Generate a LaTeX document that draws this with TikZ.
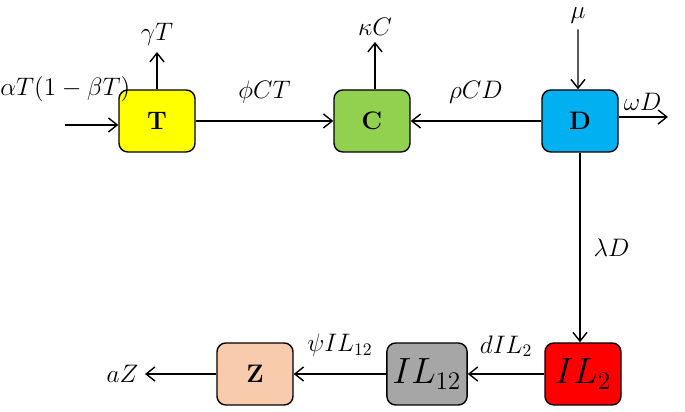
\documentclass[tikz,border=0pt]{standalone}
\usetikzlibrary{positioning,arrows.meta}
\definecolor{boxT}{RGB}{255,255,0}
\definecolor{boxC}{RGB}{146,208,80}
\definecolor{boxD}{RGB}{0,176,240}
\definecolor{boxI}{RGB}{255,0,0}
\definecolor{boxG}{RGB}{166,166,166}
\definecolor{boxZ}{RGB}{248,203,173}
\tikzset{
  comp/.style={draw, thick, rounded corners=5pt, minimum width=1.52cm, minimum height=1.24cm, font=\Large},
  flow/.style={-{Straight Barb[length=5pt,width=8pt]}, thick},
  lab/.style={font=\Large}
}
\begin{document}
\begin{tikzpicture}
    \useasboundingbox (0,0) rectangle (13.7,8.24);
    % compartments
    \node[comp, fill=boxT] (T) at (3.14,5.82) {$\mathbf{T}$};
    \node[comp, fill=boxC] (C) at (7.44,5.82) {$\mathbf{C}$};
    \node[comp, fill=boxD] (D) at (11.6,5.82) {$\mathbf{D}$};
    \node[comp, fill=boxI] (IL2) at (11.66,0.76) {\huge $IL_2$};
    \node[comp, fill=boxG] (IL12) at (8.54,0.76) {\huge $IL_{12}$};
    \node[comp, fill=boxZ] (Z) at (5.1,0.76) {$\mathbf{Z}$};

    % free ends
    \coordinate (in) at (1.3,5.74);
    \coordinate (gT) at (3.14,7.2);
    \coordinate (kC) at (7.5,7.4);
    \coordinate (mu) at (11.56,7.65);
    \coordinate (wD) at (13.36,5.9);
    \coordinate (aZ) at (2.9,0.76);

    % flows
    \draw[flow] (in) -- (in -| T.west);
    \draw[flow] (T.north) -- (gT) node[above, lab] {$\gamma T$};
    \draw[flow] (T) -- node[above=6pt, lab] {$\phi C T$} (C);
    \draw[flow] ([xshift=0.06cm]C.north) -- (kC) node[above, lab] {$\kappa C$};
    \draw[flow] (D) -- node[above=6pt, lab] {$\rho C D$} (C);
    \draw[flow] (mu) node[above, lab] {$\mu$} -- ([xshift=-0.04cm]D.north);
    \draw[flow] (D.east |- wD) -- (wD) node[above left, lab] {$\omega D$};
    \draw[flow] (D.south) -- node[right=4pt, lab] {$\lambda D$} (D.south |- IL2.north);
    \draw[flow] (IL2) -- node[above=6pt, lab] {$dIL_2$} (IL12);
    \draw[flow] (IL12) -- node[above=6pt, lab] {$\psi IL_{12}$} (Z);
    \draw[flow] (Z) -- (aZ) node[left, lab] {$aZ$};
    \node[lab, anchor=west, inner sep=0pt] (inlab) at (0,6.45) {$\alpha T(1-\beta T)$};
\end{tikzpicture}
\end{document}
